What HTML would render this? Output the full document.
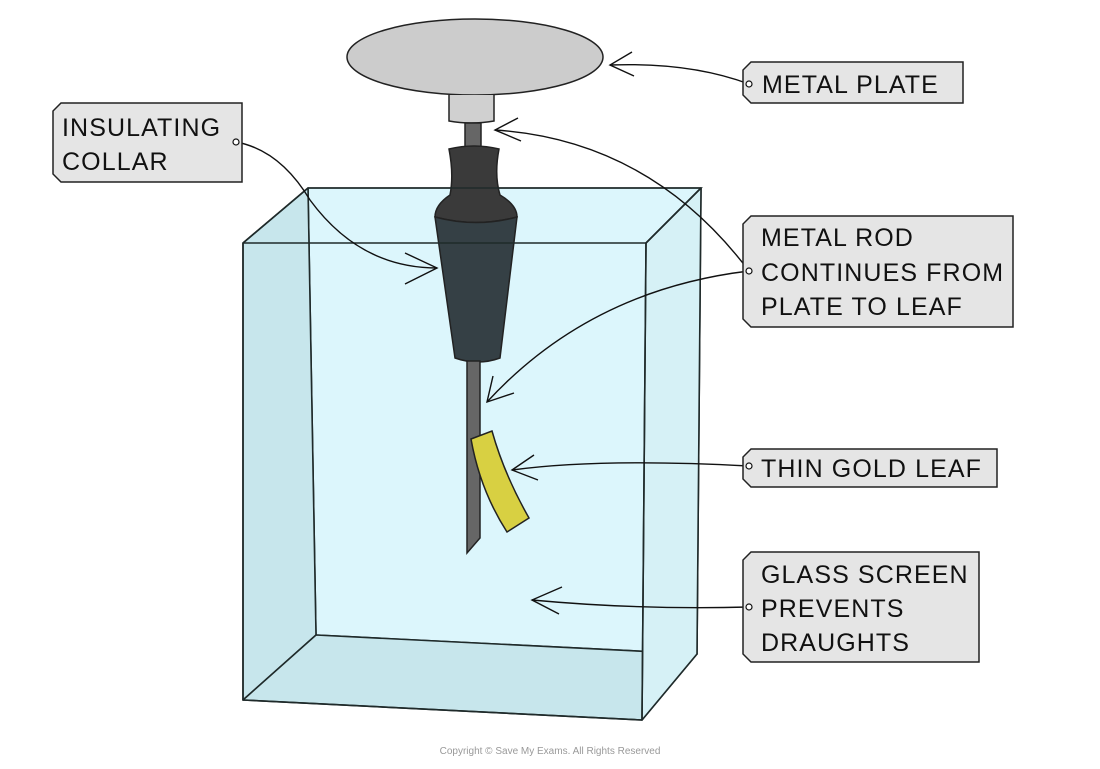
<!DOCTYPE html>
<html><head><meta charset="utf-8"><style>
html,body{margin:0;padding:0;background:#fff;width:1100px;height:769px;overflow:hidden}
svg{display:block}
text{font-family:"Liberation Sans",sans-serif}
</style></head><body>
<svg width="1100" height="769" viewBox="0 0 1100 769" xmlns="http://www.w3.org/2000/svg">
<!-- glass box back parts -->
<g stroke="#1f2a2a" stroke-width="1.6" stroke-linejoin="round">
<polygon points="308,188 701,188 697,654 316,635" fill="#dcf6fc"/>
<polygon points="243,243 308,188 316,635 243,700" fill="#c7e6ec"/>
<polygon points="243,700 316,635 697,654 642,720" fill="#c7e6ec"/>
<polygon points="646,243 701,188 697,654 642,720" fill="#d6f1f6"/>
</g>
<!-- plate -->
<ellipse cx="475" cy="57" rx="128" ry="38" fill="#cccccc" stroke="#222" stroke-width="1.5"/>
<path d="M449,95 L449,121 Q471,125 494,121 L494,95" fill="#d0d0d0" stroke="#222" stroke-width="1.5"/>
<rect x="465" y="123" width="16" height="25" fill="#666" stroke="#222" stroke-width="1.5"/>
<!-- collar -->
<path d="M449,149 Q474,143 499,149 Q494,175 500,195 Q517,205 517,217 Q476,228 435,217 Q435,205 450,195 Q454,175 449,149 Z" fill="#3a3a3a" stroke="#222" stroke-width="1.5"/>
<path d="M435,217 Q476,228 517,217 L500,358 Q478,366 455,358 Z" fill="#354045" stroke="#222" stroke-width="1.5"/>
<!-- rod -->
<path d="M467,361 L480,361 L480,538 L467,553 Z" fill="#666" stroke="#222" stroke-width="1.5"/>
<!-- leaf -->
<path d="M471,439 L492,431 Q504,474 529,518 L507,532 Q480,490 471,439 Z" fill="#d8d042" stroke="#222" stroke-width="1.5"/>
<!-- front face outline -->
<polygon points="243,243 646,243 642,720 243,700" fill="none" stroke="#1f2a2a" stroke-width="1.6" stroke-linejoin="round"/>
<polyline points="243,243 308,188 701,188 646,243" fill="none" stroke="#1f2a2a" stroke-width="1.6"/>
<!-- connectors -->
<g fill="none" stroke="#111" stroke-width="1.4">
<path d="M749,84 Q690,62 610,65"/><path d="M632,52 L610,65 L634,76"/>
<path d="M749,271 Q650,140 495,130"/><path d="M518,118 L495,130 L521,141"/>
<path d="M749,271 Q590,290 487,402"/><path d="M493,376 L487,402 L514,393"/>
<path d="M236,142 Q280,150 310,200 Q360,268 437,268"/><path d="M405,253 L437,268 L405,284"/>
<path d="M749,466 Q600,458 512,470"/><path d="M534,455 L512,470 L538,480"/>
<path d="M749,607 Q640,610 532,600"/><path d="M562,587 L532,600 L559,614"/>
</g>
<!-- labels -->
<g fill="#e5e5e5" stroke="#222" stroke-width="1.5">
<path d="M751,62 L963,62 L963,103 L751,103 L743,95 L743,70 Z"/>
<path d="M61,103 L242,103 L242,182 L61,182 L53,174 L53,111 Z"/>
<path d="M751,216 L1013,216 L1013,327 L751,327 L743,319 L743,224 Z"/>
<path d="M751,449 L997,449 L997,487 L751,487 L743,479 L743,457 Z"/>
<path d="M751,552 L979,552 L979,662 L751,662 L743,654 L743,560 Z"/>
</g>
<g fill="#fff" stroke="#111" stroke-width="1.2">
<circle cx="749" cy="84" r="3"/><circle cx="236" cy="142" r="3"/><circle cx="749" cy="271" r="3"/><circle cx="749" cy="466" r="3"/><circle cx="749" cy="607" r="3"/>
</g>
<g font-size="25" fill="#111" letter-spacing="1.1">
<text x="762" y="93">METAL PLATE</text>
<text x="62" y="136">INSULATING</text>
<text x="62" y="170">COLLAR</text>
<text x="761" y="246">METAL ROD</text>
<text x="761" y="281">CONTINUES FROM</text>
<text x="761" y="315">PLATE TO LEAF</text>
<text x="761" y="477">THIN GOLD LEAF</text>
<text x="761" y="583">GLASS SCREEN</text>
<text x="761" y="617">PREVENTS</text>
<text x="761" y="651">DRAUGHTS</text>
</g>
<text x="550" y="754" font-size="10" fill="#999" text-anchor="middle">Copyright © Save My Exams. All Rights Reserved</text>
</svg>
</body></html>
